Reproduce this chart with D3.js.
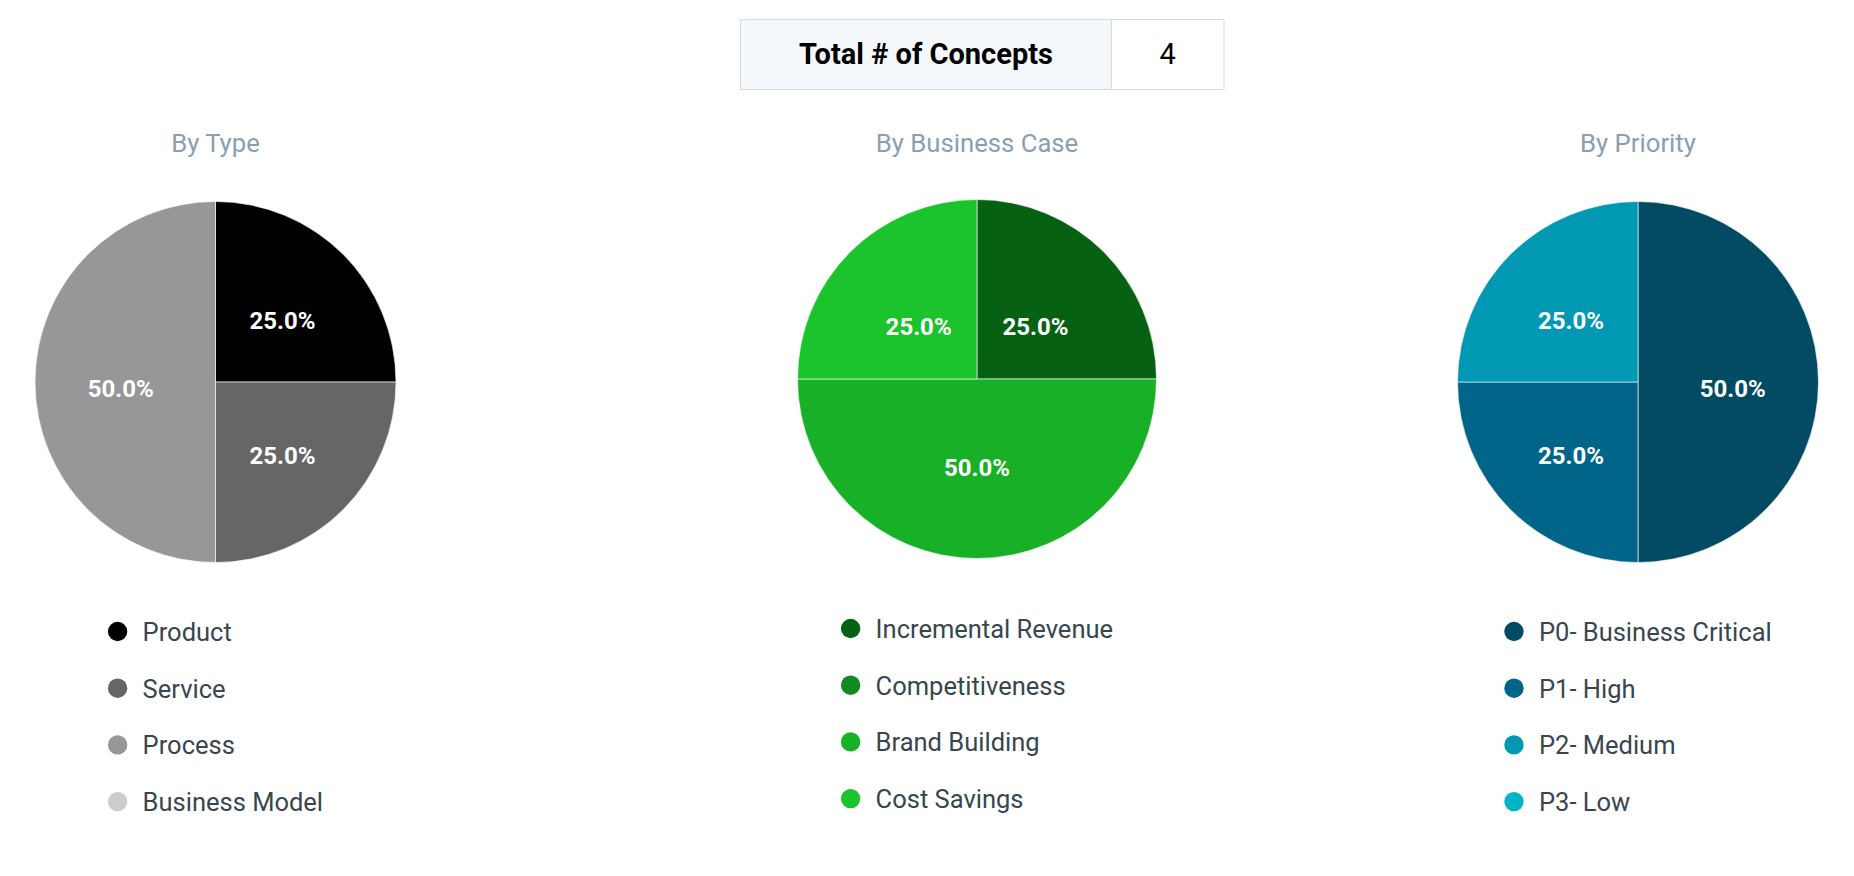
<!DOCTYPE html>
<html>
<head>
<meta charset="utf-8">
<script src="https://cdn.jsdelivr.net/npm/d3@7"></script>
<style>
  body { margin: 0; background: #fff; font-family: Roboto, "Noto Sans", sans-serif; }
</style>
</head>
<body>
<script>
var w = 1854;
var h = 876;

// data
var totalLabel = "Total # of Concepts";
var totalConcepts = 4;

var typeLabels = ["Product", "Service", "Process", "Business Model"];
var typeValues = [1, 1, 2, 0];
var typeColors = ["#000000", "#666666", "#979797", "#cccccc"];

var caseLabels = ["Incremental Revenue", "Competitiveness", "Brand Building", "Cost Savings"];
var caseValues = [1, 0, 2, 1];
var caseColors = ["#076112", "#138a20", "#17b026", "#1bc42c"];

var priorityLabels = ["P0- Business Critical", "P1- High", "P2- Medium", "P3- Low"];
var priorityValues = [2, 1, 1, 0];
var priorityColors = ["#024b63", "#006589", "#0098b2", "#00b4c8"];

// layout for each pie
var charts = [
    {title: "By Type", labels: typeLabels, values: typeValues, colors: typeColors, cx: 215.5, cy: 382, r: 180.5, labelRatio: 0.525},
    {title: "By Business Case", labels: caseLabels, values: caseValues, colors: caseColors, cx: 977, cy: 379, r: 179.5, labelRatio: 0.46},
    {title: "By Priority", labels: priorityLabels, values: priorityValues, colors: priorityColors, cx: 1638, cy: 382, r: 180.5, labelRatio: 0.525}
];

var svg = d3.select("body")
    .append("svg")
    .attr("width", w)
    .attr("height", h);

// total box at the top
var box = {x: 740.5, y: 19.5, w1: 371, w2: 112.5, h: 70};
var header = svg.append("g");
header.append("rect")
    .attr("x", box.x).attr("y", box.y)
    .attr("width", box.w1).attr("height", box.h)
    .attr("fill", "#f4f8fb").attr("stroke", "#d3dde4");
header.append("rect")
    .attr("x", box.x + box.w1).attr("y", box.y)
    .attr("width", box.w2).attr("height", box.h)
    .attr("fill", "#ffffff").attr("stroke", "#d3dde4");
header.append("text")
    .attr("x", box.x + box.w1 / 2).attr("y", 63.5)
    .attr("text-anchor", "middle")
    .attr("font-size", "29px").attr("font-weight", "bold")
    .attr("fill", "#000")
    .text(totalLabel);
header.append("text")
    .attr("x", box.x + box.w1 + box.w2 / 2).attr("y", 63.5)
    .attr("text-anchor", "middle")
    .attr("font-size", "29px")
    .attr("fill", "#000")
    .text(totalConcepts);

var pct = d3.format(".1%");
var pie = d3.pie().sort(null).value(function (d) { return d.value; });

charts.forEach(function (c) {
    var g = svg.append("g");
    var data = c.labels.map(function (l, i) {
        return {label: l, value: c.values[i], color: c.colors[i]};
    });
    var total = d3.sum(c.values);
    var color = d3.scaleOrdinal().domain(c.labels).range(c.colors);

    // title
    g.append("text")
        .attr("x", c.cx).attr("y", 151.5)
        .attr("text-anchor", "middle")
        .attr("font-size", "25.7px")
        .attr("fill", "#8aa0b2")
        .text(c.title);

    var arc = d3.arc().innerRadius(0).outerRadius(c.r);
    var labelArc = d3.arc().innerRadius(c.r * c.labelRatio).outerRadius(c.r * c.labelRatio);

    var slices = g.append("g")
        .attr("transform", "translate(" + c.cx + "," + c.cy + ")");

    var arcs = pie(data).filter(function (d) { return d.data.value > 0; });

    slices.selectAll("path")
        .data(arcs)
        .enter()
        .append("path")
        .attr("d", arc)
        .attr("fill", function (d) { return color(d.data.label); })
        .attr("stroke", "#ffffff")
        .attr("stroke-opacity", 0.6)
        .attr("stroke-width", 1);

    slices.selectAll(".pct")
        .data(arcs)
        .enter()
        .append("text")
        .attr("class", "pct")
        .attr("transform", function (d) {
            var p = labelArc.centroid(d);
            return "translate(" + p[0] + "," + (p[1] + 14.5) + ")";
        })
        .attr("text-anchor", "middle")
        .attr("font-size", "24px")
        .attr("font-weight", "bold")
        .attr("fill", "#ffffff")
        .text(function (d) { return pct(d.data.value / total); });

    // legend, a left aligned block centred under the pie
    var legend = g.append("g");
    var items = legend.selectAll(".item")
        .data(data)
        .enter()
        .append("g")
        .attr("class", "item")
        .attr("transform", function (d, i) {
            return "translate(0," + (c.cy + 249.5 + i * 56.7) + ")";
        });
    items.append("circle")
        .attr("cx", 9.7)
        .attr("r", 9.7)
        .attr("fill", function (d) { return color(d.label); });
    var texts = items.append("text")
        .attr("x", 34.7)
        .attr("y", 9.3)
        .attr("font-size", "25.5px")
        .attr("fill", "#37474f")
        .text(function (d) { return d.label; });

    var maxW = 0;
    texts.each(function () { maxW = Math.max(maxW, this.getComputedTextLength()); });
    legend.attr("transform", "translate(" + (c.cx - (34.7 + maxW) / 2) + ",0)");
});
</script>
</body>
</html>
